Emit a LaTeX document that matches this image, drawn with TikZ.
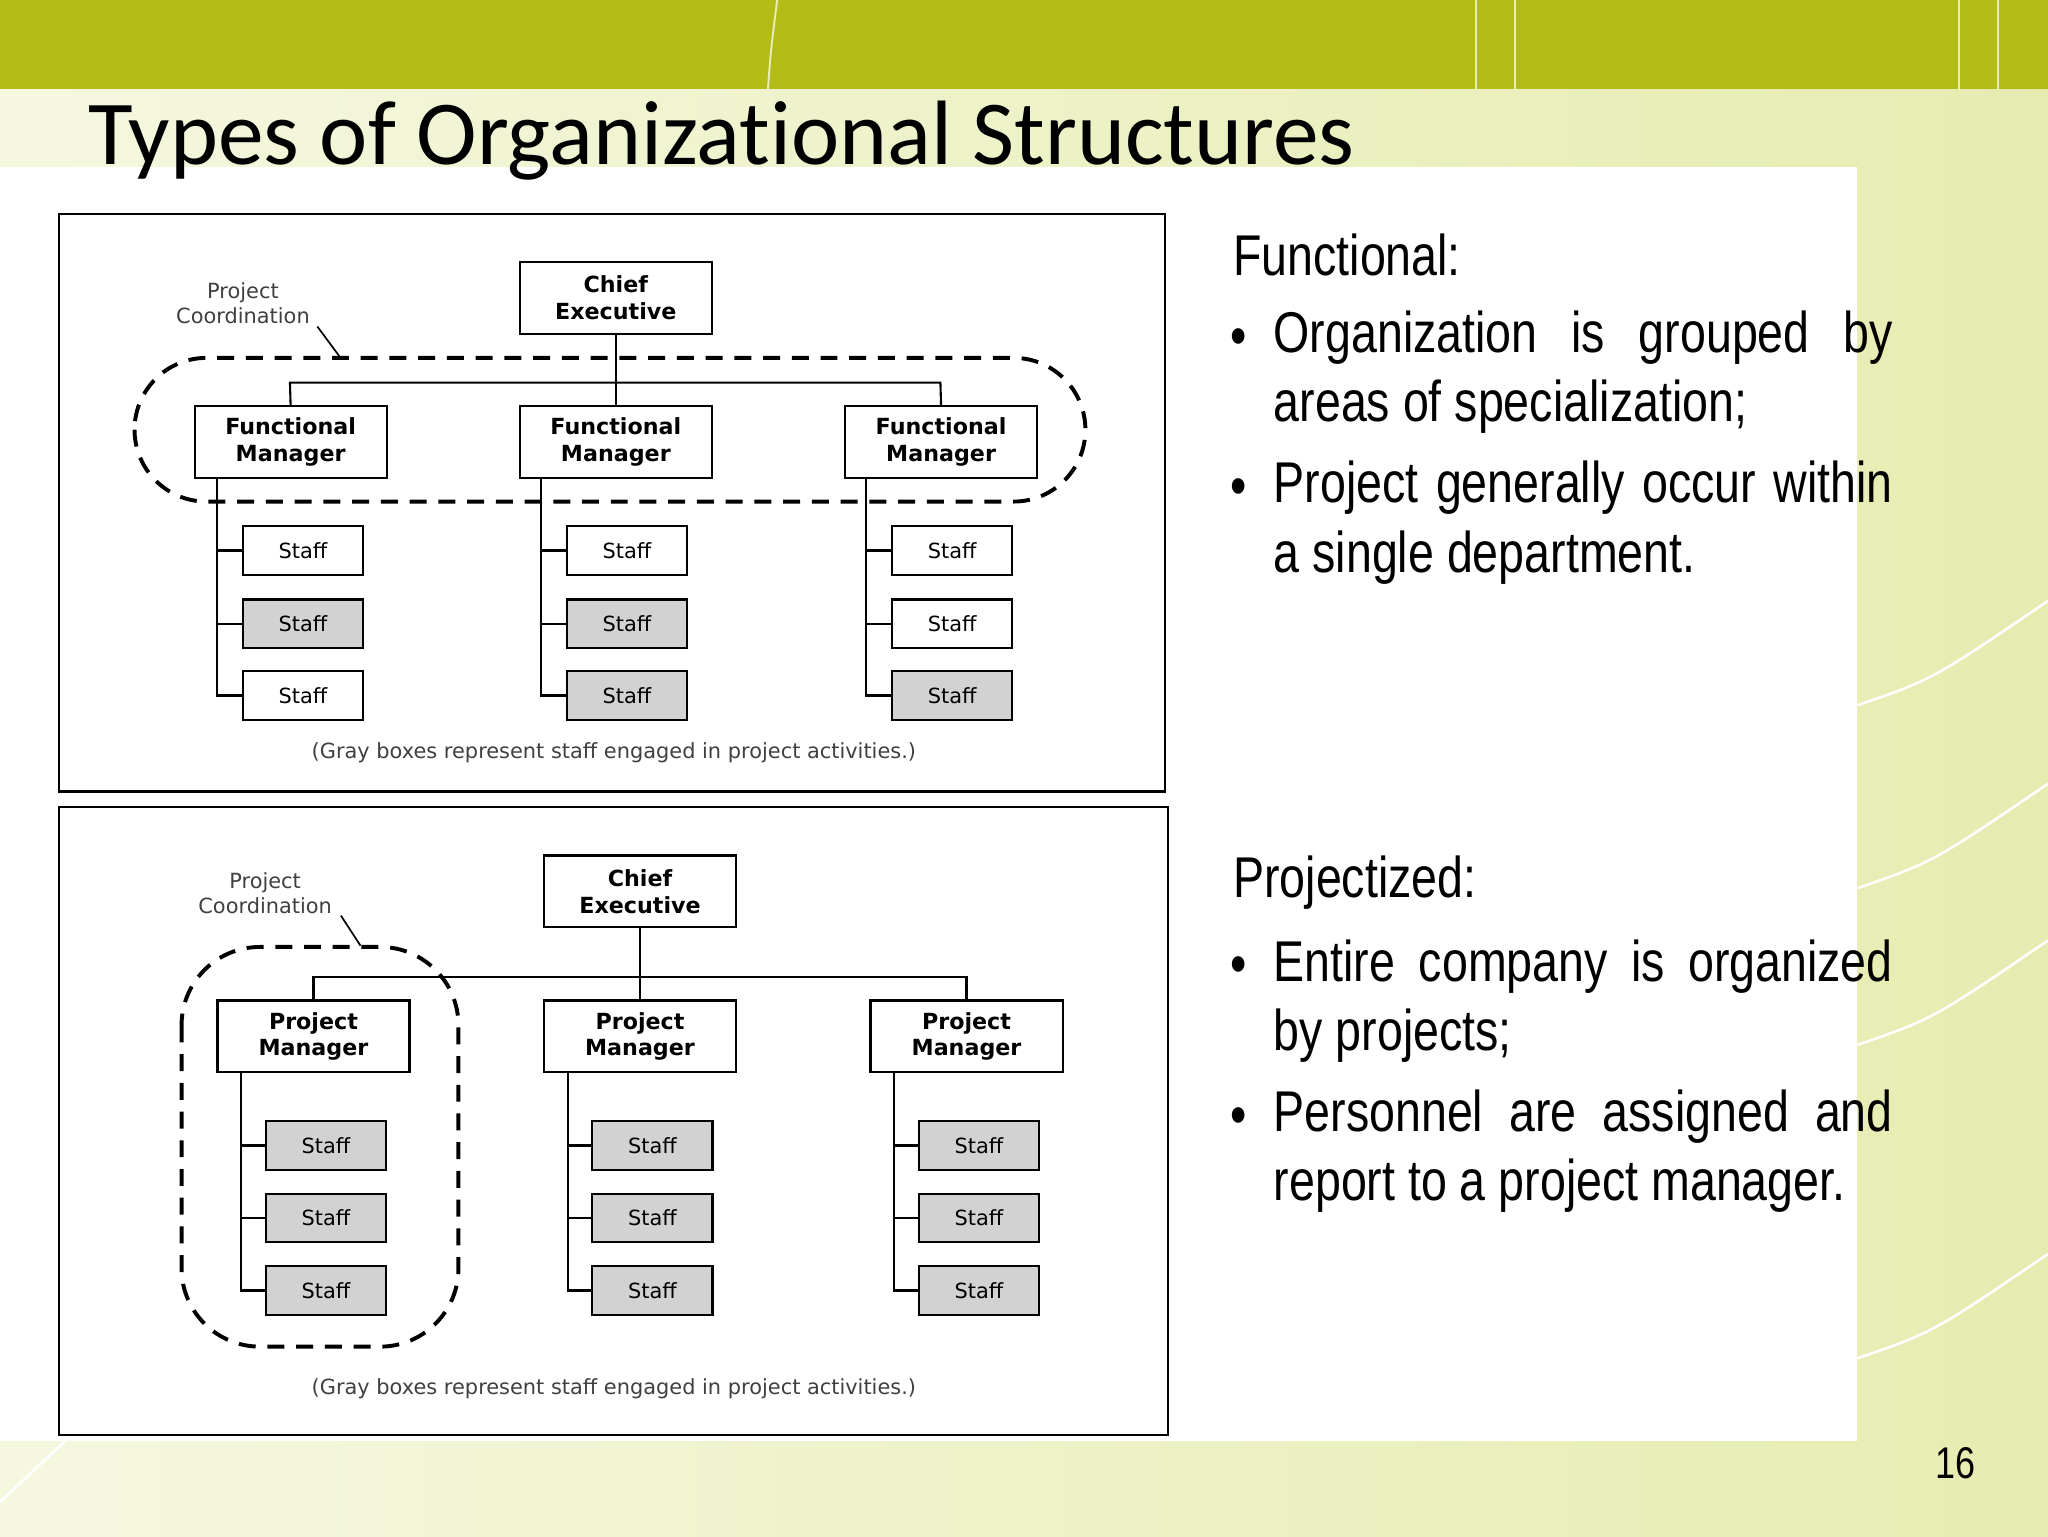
\documentclass[tikz,border=0pt]{standalone}
\usepackage{fontspec}
\setmainfont{Liberation Sans}[FakeStretch=0.81]
\newfontfamily\titlefont{Carlito}[Ligatures={NoCommon,NoRequired,NoContextual}]
\newfontfamily\dia{DejaVu Sans}
\usetikzlibrary{positioning}
\definecolor{olive}{HTML}{B4BC17}
\definecolor{pale}{HTML}{E6ECB0}
\definecolor{grayb}{HTML}{D2D2D2}
\tikzset{
  box/.style={draw, line width=1.6pt, inner sep=0pt, font=\dia\bfseries\fontsize{17}{20.5}\selectfont, align=center},
  mgr/.style={box, minimum width=147pt, minimum height=55pt},
  staffbox/.style={draw, line width=1.6pt, minimum width=92pt, minimum height=37pt, font=\dia\fontsize{16}{18}\selectfont},
  gstaff/.style={staffbox, fill=grayb},
  ln/.style={line width=1.6pt},
  dsh/.style={line width=3pt, dash pattern=on 13pt off 9pt},
  lbl/.style={font=\dia\fontsize{16}{19}\selectfont, align=center, text=black!75},
  body/.style={anchor=north west, text width=474pt, align=justify, font=\fontsize{44}{53}\selectfont, inner sep=0pt}
}
\begin{document}
\begin{tikzpicture}[x=1pt,y=-1pt]
\useasboundingbox (0,0) rectangle (1568,1176);
\fill[pale] (0,0) rectangle (1568,1176);
\shade[left color=pale!40, right color=pale] (0,68) rectangle (1568,1176);
\fill[olive] (0,0) rectangle (1568,68);
\foreach \x in {1130,1160,1500,1530} \draw[white!70!olive, line width=1.5pt] (\x,0) -- (\x,68);
\draw[white!70!olive, line width=1.5pt] (595,0) .. controls (590,40) .. (588,68);
\fill[white] (0,128) rectangle (1422,1103);
\foreach \yy in {500,640,760,1000} \draw[white, line width=2pt] (1422,\yy+40) .. controls (1480,\yy+20) .. (1568,\yy-40);
\draw[white, line width=2pt] (0,1150) -- (50,1103);
\node[anchor=west, font=\titlefont\fontsize{70}{76}\selectfont] (title) at (64,108) {Types of Organizational Structures};
\node[font=\fontsize{34}{36}\selectfont] (pg) at (1497,1120) {16};

% ---------- Top panel ----------
\draw[ln] (45,164) rectangle (892,606);
\node[mgr] (ce1) at (471.5,228) {Chief\\Executive};
\node[mgr] (f1) at (222.5,338.5) {Functional\\Manager};
\node[mgr] (f2) at (471.5,338.5) {Functional\\Manager};
\node[mgr] (f3) at (720.5,338.5) {Functional\\Manager};
\coordinate (h1) at (222,293); \coordinate (h2) at (720,293);
\draw[ln] (ce1.south) -- (f2.north);
\draw[ln] (f1.north) -- (h1) -- (h2) -- (f3.north);
\foreach \c/\xs/\ta/\tb/\tc in {1/232/staffbox/gstaff/staffbox, 2/480/staffbox/gstaff/gstaff, 3/729/staffbox/staffbox/gstaff} {
  \node[\ta] (s\c a) at (\xs,421.5) {Staff};
  \node[\tb] (s\c b) at (\xs,477.5) {Staff};
  \node[\tc] (s\c c) at (\xs,532.5) {Staff};
  \draw[ln] ([xshift=-19pt]s\c a.west |- f\c.south) -- ([xshift=-19pt]s\c c.west) -- (s\c c.west);
  \draw[ln] ([xshift=-19pt]s\c a.west) -- (s\c a.west);
  \draw[ln] ([xshift=-19pt]s\c b.west) -- (s\c b.west);
}
\draw[dsh, rounded corners=55pt] (103,274) rectangle (831,384);
\node[lbl] (pc1) at (186,232) {Project\\Coordination};
\coordinate (pc1e) at (260,273);
\draw[line width=1.3pt] (243,250) -- (pc1e);
\node[lbl] (cap1) at (470,576) {(Gray boxes represent staff engaged in project activities.)};

% ---------- Bottom panel ----------
\draw[ln] (45,618) rectangle (894,1099);
\node[mgr] (ce2) at (490,682.5) {Chief\\Executive};
\node[mgr] (p1) at (240,793.5) {Project\\Manager};
\node[mgr] (p2) at (490,793.5) {Project\\Manager};
\node[mgr] (p3) at (740,793.5) {Project\\Manager};
\coordinate (g1) at (240,748); \coordinate (g2) at (740,748);
\draw[ln] (ce2.south) -- (p2.north);
\draw[ln] (p1.north) -- (g1) -- (g2) -- (p3.north);
\foreach \c/\xs in {1/249.5,2/499.5,3/749.5} {
  \node[gstaff] (t\c a) at (\xs,877) {Staff};
  \node[gstaff] (t\c b) at (\xs,932.5) {Staff};
  \node[gstaff] (t\c c) at (\xs,988) {Staff};
  \draw[ln] ([xshift=-18pt]t\c a.west |- p\c.south) -- ([xshift=-18pt]t\c c.west) -- (t\c c.west);
  \draw[ln] ([xshift=-18pt]t\c a.west) -- (t\c a.west);
  \draw[ln] ([xshift=-18pt]t\c b.west) -- (t\c b.west);
}
\draw[dsh, rounded corners=60pt] (139,725) rectangle (351,1031);
\node[lbl] (pc2) at (203,684) {Project\\Coordination};
\coordinate (pc2e) at (276,724);
\draw[line width=1.3pt] (261,701) -- (pc2e);
\node[lbl] (cap2) at (470,1063) {(Gray boxes represent staff engaged in project activities.)};

% ---------- Right text ----------
\node[anchor=west, font=\fontsize{44}{53}\selectfont, inner sep=0pt] (fh) at (944,195) {Functional:};
\node[anchor=west, font=\fontsize{44}{53}\selectfont, inner sep=0pt] (b1) at (942,262) {•};
\node[body] (t1) at (975,238) {Organization is grouped by\linebreak areas of specialization;};
\node[anchor=west, font=\fontsize{44}{53}\selectfont, inner sep=0pt] (b2) at (942,377) {•};
\node[body] (t2) at (975,353) {Project generally occur within\linebreak a single department.};

\node[anchor=west, font=\fontsize{44}{53}\selectfont, inner sep=0pt] (ph) at (944,676) {Projectized:};
\node[anchor=west, font=\fontsize{44}{53}\selectfont, inner sep=0pt] (b3) at (942,743) {•};
\node[body] (t3) at (975,719) {Entire company is organized\linebreak by projects;};
\node[anchor=west, font=\fontsize{44}{53}\selectfont, inner sep=0pt] (b4) at (942,858) {•};
\node[body] (t4) at (975,834) {Personnel are assigned and\linebreak report to a project manager.};
\end{tikzpicture}
\end{document}
